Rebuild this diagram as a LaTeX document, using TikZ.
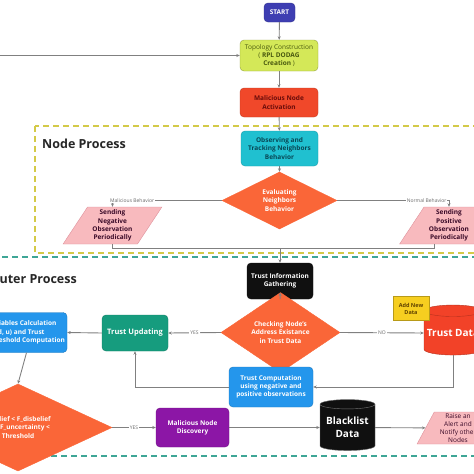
\documentclass[tikz,border=0pt]{standalone}
\usepackage{fontspec}
\setmainfont{Open Sans}
\usetikzlibrary{shapes.geometric,arrows.meta}

\definecolor{linegray}{RGB}{128,128,128}
\definecolor{labelgray}{RGB}{105,105,105}
\definecolor{startblue}{RGB}{62,62,178}
\definecolor{limefill}{RGB}{212,232,88}
\definecolor{limetext}{RGB}{72,88,14}
\definecolor{activred}{RGB}{240,72,42}
\definecolor{activtext}{RGB}{105,12,10}
\definecolor{cyanfill}{RGB}{32,192,208}
\definecolor{cyantext}{RGB}{8,72,86}
\definecolor{diamondred}{RGB}{250,102,56}
\definecolor{pinkfill}{RGB}{248,186,190}
\definecolor{pinkline}{RGB}{222,146,156}
\definecolor{pinktext}{RGB}{58,10,40}
\definecolor{infoblack}{RGB}{16,16,16}
\definecolor{datared}{RGB}{242,66,40}
\definecolor{noteyellow}{RGB}{246,206,32}
\definecolor{notetext}{RGB}{96,66,0}
\definecolor{compblue}{RGB}{36,150,236}
\definecolor{updategreen}{RGB}{22,156,126}
\definecolor{discpurple}{RGB}{140,22,166}
\definecolor{zoneyellow}{RGB}{212,202,72}
\definecolor{zonegreen}{RGB}{62,166,150}

\begin{document}
\begin{tikzpicture}[x=1pt,y=-1pt,
    >={Stealth[length=3.5pt,width=3pt]},
    every node/.style={align=center,inner sep=0pt,font=\fontsize{6.5}{8.3}\selectfont\bfseries},
    flow/.style={draw=linegray,line width=0.9pt},
    rbox/.style={rectangle,rounded corners=4pt,line width=0.4pt},
    decide/.style={diamond,fill=diamondred,draw=diamondred,text=white},
    sendbox/.style={trapezium,trapezium left angle=58,trapezium right angle=122,
      trapezium stretches=true,fill=pinkfill,draw=pinkline,text=pinktext,line width=0.4pt},
    store/.style={cylinder,shape border rotate=90,aspect=0.22,text=white,
      font=\fontsize{10}{13}\selectfont\bfseries},
    edgelabel/.style={fill=white,text=labelgray,inner sep=1pt,
      font=\fontsize{5}{6}\selectfont},
    zone/.style={dash pattern=on 6pt off 4pt,line width=1.4pt}]
  \useasboundingbox (0,0) rectangle (474,474);
  \clip (0,0) rectangle (474,474);

  % process zones
  \draw[zone,zoneyellow] (35,126) rectangle (495,253);
  \draw[zone,zonegreen] (-10,257) rectangle (495,456);
  \node[anchor=west,font=\fontsize{12.5}{14}\selectfont\bfseries,text=black!85] (nodetitle) at (42,144) {Node Process};
  \node[anchor=east,font=\fontsize{12.5}{14}\selectfont\bfseries,text=black!85] (routertitle) at (77,279) {Router Process};

  % node process
  \node[rbox,fill=startblue,draw=startblue!80!black,text=white,minimum width=31,minimum height=19] (start) at (279.5,12.5) {START};
  \node[rbox,fill=limefill,draw=limefill!70!black,text=limetext,minimum width=78,minimum height=31,
    font=\fontsize{6.5}{8.3}\selectfont] (topo) at (279,55.5) {Topology Construction\\( \textbf{RPL DODAG}\\\textbf{Creation} )};
  \node[rbox,fill=activred,draw=activred!80!black,text=activtext,minimum width=78,minimum height=29] (activ) at (279,102.5) {Malicious Node\\Activation};
  \node[rbox,fill=cyanfill,draw=cyanfill!80!black,text=cyantext,minimum width=77,minimum height=35] (observe) at (279.5,148.5) {Observing and\\Tracking Neighbors\\Behavior};
  \node[decide,minimum width=115,minimum height=57] (eval) at (279.5,200.5) {Evaluating\\Neighbors\\Behavior};
  \node[sendbox,minimum width=99,minimum height=37] (neg) at (112.5,225.5) {Sending\\Negative\\Observation\\Periodically};
  \node[sendbox,minimum width=99,minimum height=37] (pos) at (449,225.5) {Sending\\Positive\\Observation\\Periodically};
  \coordinate (fromleft) at (-5,55.5);
  \coordinate (merge) at (280,248);

  % router process
  \node[rbox,fill=infoblack,draw=infoblack,text=white,minimum width=66,minimum height=36] (info) at (280,281) {Trust Information\\Gathering};
  \node[decide,minimum width=119,minimum height=55] (check) at (280.5,332.5) {Checking Node's\\Address Existance\\in Trust Data};
  \node[store,fill=datared,draw=datared!75!black,minimum width=58,minimum height=50] (tdata) at (453,333) {Trust Data};
  \node[rectangle,fill=noteyellow,draw=noteyellow!75!black,text=notetext,line width=0.4pt,
    minimum width=36,minimum height=24,font=\fontsize{5.5}{7}\selectfont\bfseries] (addnew) at (411,308.5) {Add New\\Data};
  \node[rbox,fill=updategreen,draw=updategreen!80!black,text=white,minimum width=66,minimum height=36,
    font=\fontsize{7.5}{9}\selectfont\bfseries] (update) at (135,333) {Trust Updating};
  \node[rbox,fill=compblue,draw=compblue!80!black,text=white,minimum width=81,minimum height=40,
    align=left] (vars) at (26.5,332.5) {Variables Calculation\\(b, d, u) and Trust\\Threshold Computation};
  \node[rbox,fill=compblue,draw=compblue!80!black,text=white,minimum width=84,minimum height=40] (comp) at (271,387) {Trust Computation\\using negative and\\positive observations};
  \node[decide,minimum width=188,minimum height=57] (cond) at (18,427.5) {F\_belief < F\_disbelief\\and F\_uncertainty <\\Threshold};
  \node[rbox,fill=discpurple,draw=discpurple!80!black,text=white,minimum width=73,minimum height=39] (disc) at (192.5,427.5) {Malicious Node\\Discovery};
  \node[store,fill=infoblack,draw=black!55,minimum width=55,minimum height=51] (black) at (347.5,427.5) {Blacklist\\Data};
  \node[sendbox,trapezium left angle=65,trapezium right angle=115,minimum width=82,minimum height=32,
    font=\fontsize{6.5}{7.8}\selectfont] (alert) at (458,428) {Raise an\\Alert and\\Notify other\\Nodes};

  % connectors
  \draw[flow,->] (start) -- (topo);
  \draw[flow,->] (fromleft) -- (topo.west);
  \draw[flow,->] (topo) -- (activ);
  \draw[flow,->] (activ) -- (observe);
  \draw[flow,->] (observe) -- (eval);
  \draw[flow,->] (eval.west) -| node[edgelabel,pos=0.41] {Malicious Behavior} (neg.north);
  \draw[flow,->] (eval.east) -| node[edgelabel,pos=0.40] {Normal Behavior} (pos.north);
  \draw[flow] (neg.south) |- (merge);
  \draw[flow] ([xshift=-15pt]pos.south) |- (merge);
  \draw[flow,->] (merge) -- (info.north);
  \draw[flow,->] (info) -- (check);
  \draw[flow,->] (check.east) -- node[edgelabel] {NO} (tdata.west);
  \draw[flow,->] (check.west) -- node[edgelabel] {YES} (update.east);
  \draw[flow,->] (update.west) -- (vars.east);
  \draw[flow,->] (tdata.south) |- (comp.east);
  \draw[flow,->] (comp.west) -| (update.south);
  \draw[flow,->] (vars.south) -- (cond.north);
  \draw[flow,->] (cond.east) -- node[edgelabel] {YES} (disc.west);
  \draw[flow,->] (disc) -- (black);
  \draw[flow,->] (black) -- (alert);
\end{tikzpicture}
\end{document}
